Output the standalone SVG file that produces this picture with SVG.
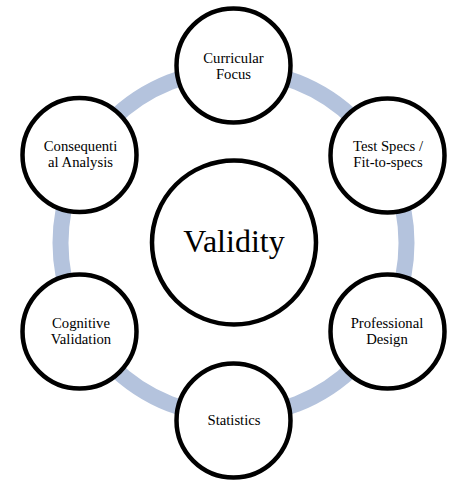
<svg xmlns="http://www.w3.org/2000/svg" width="464" height="485" viewBox="0 0 464 485">
<style>
.ring{fill:none;stroke:#b4c3dd;stroke-width:16}
.node{fill:#fff;stroke:#000;stroke-width:4.5}
.t{font-family:"Liberation Serif","Times New Roman",serif;font-size:14.7px;fill:#000;text-anchor:middle}
.big{font-family:"Liberation Serif","Times New Roman",serif;font-size:32px;fill:#000;text-anchor:middle}
</style>
<rect width="464" height="485" fill="#fff"/>
<g id="connectors">
<circle class="ring" cx="233.5" cy="243" r="173"/>
</g>
<g id="validity">
<circle class="node" cx="234" cy="242.5" r="82"/>
<text class="big" x="234" y="252">Validity</text>
</g>
<g id="curricular">
<circle class="node" cx="233.5" cy="65.5" r="57"/>
<text class="t" x="233.5" y="63">Curricular</text>
<text class="t" x="233.5" y="79">Focus</text>
</g>
<g id="testspecs">
<circle class="node" cx="387.5" cy="155.5" r="57"/>
<text class="t" x="388" y="151">Test Specs /</text>
<text class="t" x="388" y="167">Fit-to-specs</text>
</g>
<g id="professional">
<circle class="node" cx="387.5" cy="331.5" r="57"/>
<text class="t" x="387" y="328">Professional</text>
<text class="t" x="387" y="344">Design</text>
</g>
<g id="statistics">
<circle class="node" cx="233.5" cy="420.5" r="57"/>
<text class="t" x="234" y="425">Statistics</text>
</g>
<g id="cognitive">
<circle class="node" cx="79.5" cy="331.5" r="57"/>
<text class="t" x="81" y="328">Cognitive</text>
<text class="t" x="81" y="344">Validation</text>
</g>
<g id="consequential">
<circle class="node" cx="79.5" cy="155" r="57"/>
<text class="t" x="80.5" y="151">Consequenti</text>
<text class="t" x="80.5" y="167">al Analysis</text>
</g>
</svg>
